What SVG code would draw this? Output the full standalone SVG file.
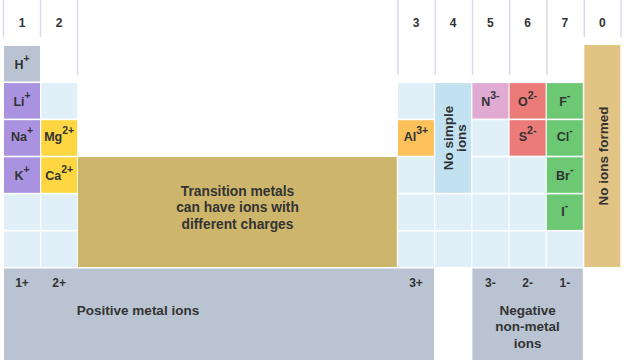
<svg xmlns="http://www.w3.org/2000/svg" width="624" height="360" viewBox="0 0 624 360">
<style>
.t{font-family:"Liberation Sans",Arial,sans-serif;font-weight:bold;fill:#333;text-anchor:middle}
.el{font-size:12.5px}
.sup{font-size:10.5px}
.hd{font-size:12px}
.big{font-size:13.5px}
.hl{stroke:#dad8ec;stroke-width:1.5;fill:none}
.lb{fill:#e1f0f8}
.gr{fill:#b9c3d1}
.pu{fill:#a993e1}
.ye{fill:#fdd642}
.or{fill:#fdc15b}
.pk{fill:#e0aad3}
.rd{fill:#eb7b79}
.gn{fill:#6cc872}
.tr{fill:#cdb56b}
.ns{fill:#c2e1f1}
.nf{fill:#e1c383}
</style>
<rect width="624" height="360" fill="#ffffff"/>

<g id="header-lines">
<line class="hl" x1="3.5" y1="0" x2="3.5" y2="37"/>
<line class="hl" x1="40.5" y1="0" x2="40.5" y2="37"/>
<line class="hl" x1="77.5" y1="0" x2="77.5" y2="75"/>
<line class="hl" x1="398" y1="0" x2="398" y2="75"/>
<line class="hl" x1="435.3" y1="0" x2="435.3" y2="75"/>
<line class="hl" x1="472.5" y1="0" x2="472.5" y2="75"/>
<line class="hl" x1="509.7" y1="0" x2="509.7" y2="75"/>
<line class="hl" x1="546.9" y1="0" x2="546.9" y2="75"/>
<line class="hl" x1="584.3" y1="0" x2="584.3" y2="37"/>
<line class="hl" x1="621" y1="0" x2="621" y2="37"/>
</g>

<g id="header-labels">
<text class="t hd" x="22" y="27">1</text>
<text class="t hd" x="59.2" y="27">2</text>
<text class="t hd" x="416" y="27">3</text>
<text class="t hd" x="453.2" y="27">4</text>
<text class="t hd" x="490.4" y="27">5</text>
<text class="t hd" x="527.6" y="27">6</text>
<text class="t hd" x="564.8" y="27">7</text>
<text class="t hd" x="602.3" y="27">0</text>
</g>

<g id="empty-cells">
<rect class="lb" x="4" y="194.4" width="36" height="35.5"/>
<rect class="lb" x="4" y="231.5" width="36" height="35.5"/>
<rect class="lb" x="41.2" y="83.1" width="36" height="35.5"/>
<rect class="lb" x="41.2" y="194.4" width="36" height="35.5"/>
<rect class="lb" x="41.2" y="231.5" width="36" height="35.5"/>
<rect class="lb" x="398" y="83.1" width="36" height="35.5"/>
<rect class="lb" x="398" y="157.3" width="36" height="35.5"/>
<rect class="lb" x="398" y="194.4" width="36" height="35.5"/>
<rect class="lb" x="398" y="231.5" width="36" height="35.5"/>
<rect class="lb" x="435.2" y="194.4" width="36" height="35.5"/>
<rect class="lb" x="435.2" y="231.5" width="36" height="35.5"/>
<rect class="lb" x="472.4" y="120.2" width="36" height="35.5"/>
<rect class="lb" x="472.4" y="157.3" width="36" height="35.5"/>
<rect class="lb" x="472.4" y="194.4" width="36" height="35.5"/>
<rect class="lb" x="472.4" y="231.5" width="36" height="35.5"/>
<rect class="lb" x="509.6" y="157.3" width="36" height="35.5"/>
<rect class="lb" x="509.6" y="194.4" width="36" height="35.5"/>
<rect class="lb" x="509.6" y="231.5" width="36" height="35.5"/>
<rect class="lb" x="546.8" y="231.5" width="36" height="35.5"/>
</g>

<g id="H"><rect class="gr" x="4" y="46" width="36" height="35.5"/><text class="t el" x="22" y="69">H<tspan class="sup" dy="-7">+</tspan></text></g>
<g id="Li"><rect class="pu" x="4" y="83.1" width="36" height="35.5"/><text class="t el" x="22" y="105.5">Li<tspan class="sup" dy="-7">+</tspan></text></g>
<g id="Na"><rect class="pu" x="4" y="120.2" width="36" height="35.5"/><text class="t el" x="22" y="141">Na<tspan class="sup" dy="-7">+</tspan></text></g>
<g id="K"><rect class="pu" x="4" y="157.3" width="36" height="35.5"/><text class="t el" x="22" y="179.5">K<tspan class="sup" dy="-7">+</tspan></text></g>
<g id="Mg"><rect class="ye" x="41.2" y="120.2" width="36" height="35.5"/><text class="t el" x="59.2" y="141">Mg<tspan class="sup" dy="-7">2+</tspan></text></g>
<g id="Ca"><rect class="ye" x="41.2" y="157.3" width="36" height="35.5"/><text class="t el" x="59.2" y="179.5">Ca<tspan class="sup" dy="-7">2+</tspan></text></g>

<g id="transition-metals">
<rect class="tr" x="78" y="157" width="318.8" height="110"/>
<text class="t" style="font-size:13.8px" x="237.5" y="196">Transition metals</text>
<text class="t" style="font-size:13.8px" x="237.5" y="212.3">can have ions with</text>
<text class="t" style="font-size:13.8px" x="237.5" y="228.6">different charges</text>
</g>

<g id="Al"><rect class="or" x="398" y="120.2" width="36" height="35.5"/><text class="t el" x="416" y="141">Al<tspan class="sup" dy="-7">3+</tspan></text></g>

<g id="no-simple-ions">
<rect class="ns" x="435.2" y="83.1" width="36" height="109.7"/>
<text class="t big" transform="translate(453.2,138) rotate(-90)"><tspan x="0" y="-0.7">No simple</tspan><tspan x="0" y="13.3">ions</tspan></text>
</g>

<g id="N"><rect class="pk" x="472.4" y="83.1" width="36" height="35.5"/><text class="t el" x="490.4" y="105.5">N<tspan class="sup" dy="-7">3-</tspan></text></g>
<g id="O"><rect class="rd" x="509.6" y="83.1" width="36" height="35.5"/><text class="t el" x="527.6" y="105.5">O<tspan class="sup" dy="-7">2-</tspan></text></g>
<g id="S"><rect class="rd" x="509.6" y="120.2" width="36" height="35.5"/><text class="t el" x="527.6" y="141">S<tspan class="sup" dy="-7">2-</tspan></text></g>
<g id="F"><rect class="gn" x="546.8" y="83.1" width="36" height="35.5"/><text class="t el" x="564.8" y="105.5">F<tspan class="sup" dy="-7">-</tspan></text></g>
<g id="Cl"><rect class="gn" x="546.8" y="120.2" width="36" height="35.5"/><text class="t el" x="564.8" y="141">Cl<tspan class="sup" dy="-7">-</tspan></text></g>
<g id="Br"><rect class="gn" x="546.8" y="157.3" width="36" height="35.5"/><text class="t el" x="564.8" y="180">Br<tspan class="sup" dy="-7">-</tspan></text></g>
<g id="I"><rect class="gn" x="546.8" y="194.4" width="36" height="35.5"/><text class="t el" x="564.8" y="215.5">I<tspan class="sup" dy="-7">-</tspan></text></g>

<g id="no-ions-formed">
<rect class="nf" x="584.3" y="45" width="36" height="222"/>
<text class="t big" transform="translate(602.3,156) rotate(-90)" x="0" y="5.5">No ions formed</text>
</g>

<g id="positive-metal-ions">
<rect class="gr" x="4" y="268.5" width="430" height="92"/>
<text class="t hd" x="22" y="287">1+</text>
<text class="t hd" x="59.2" y="287">2+</text>
<text class="t hd" x="416" y="287">3+</text>
<text class="t big" x="138" y="314.5">Positive metal ions</text>
</g>

<g id="negative-non-metal-ions">
<rect class="gr" x="472.4" y="268.5" width="110.4" height="92"/>
<text class="t hd" x="490.4" y="287">3-</text>
<text class="t hd" x="527.6" y="287">2-</text>
<text class="t hd" x="564.8" y="287">1-</text>
<text class="t big" x="527.6" y="315"><tspan x="527.6" y="315">Negative</tspan><tspan x="527.6" y="331.3">non-metal</tspan><tspan x="527.6" y="347.6">ions</tspan></text>
</g>
</svg>
